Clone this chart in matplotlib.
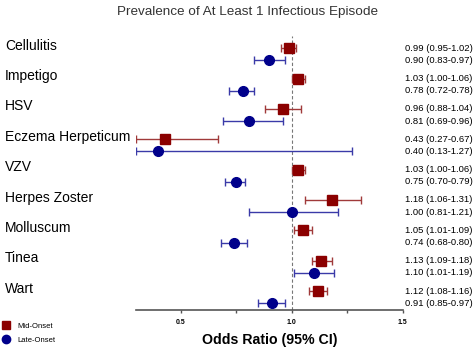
import matplotlib.pyplot as plt
import matplotlib.transforms as mtransforms
from matplotlib.lines import Line2D
import numpy as np

plt.rcParams['font.family'] = ['Liberation Sans', 'DejaVu Sans']

infections = ['Cellulitis', 'Impetigo', 'HSV', 'Eczema Herpeticum', 'VZV',
              'Herpes Zoster', 'Molluscum', 'Tinea', 'Wart']

mid_or = [0.99, 1.03, 0.96, 0.43, 1.03, 1.18, 1.05, 1.13, 1.12]
mid_lo = [0.95, 1.00, 0.88, 0.27, 1.00, 1.06, 1.01, 1.09, 1.08]
mid_hi = [1.02, 1.06, 1.04, 0.67, 1.06, 1.31, 1.09, 1.18, 1.16]

late_or = [0.90, 0.78, 0.81, 0.40, 0.75, 1.00, 0.74, 1.10, 0.91]
late_lo = [0.83, 0.72, 0.69, 0.13, 0.70, 0.81, 0.68, 1.01, 0.85]
late_hi = [0.97, 0.83, 0.96, 1.27, 0.79, 1.21, 0.80, 1.19, 0.97]

mid_text = ['0.99 (0.95-1.02)', '1.03 (1.00-1.06)', '0.96 (0.88-1.04)',
            '0.43 (0.27-0.67)', '1.03 (1.00-1.06)', '1.18 (1.06-1.31)',
            '1.05 (1.01-1.09)', '1.13 (1.09-1.18)', '1.12 (1.08-1.16)']
late_text = ['0.90 (0.83-0.97)', '0.78 (0.72-0.78)', '0.81 (0.69-0.96)',
             '0.40 (0.13-1.27)', '0.75 (0.70-0.79)', '1.00 (0.81-1.21)',
             '0.74 (0.68-0.80)', '1.10 (1.01-1.19)', '0.91 (0.85-0.97)']

xmin, xmax = 0.3, 1.5
red = '#8b0000'
red_bar = '#a03a3a'
blue = '#00008b'
blue_bar = '#3a3aa8'

fig = plt.figure(figsize=(4.74, 3.53), dpi=100)
ax = fig.add_axes([0.287, 0.122, 0.563, 0.776])

y_mid = np.arange(len(infections))
y_late = y_mid + 0.4

def draw(y, est, lo, hi, marker, color, ecolor, ms):
    est = np.array(est)
    lo = np.maximum(np.array(lo), xmin)
    hi = np.minimum(np.array(hi), xmax)
    ax.errorbar(est, y, xerr=[est - lo, hi - est], fmt=marker, color=color,
                ecolor=ecolor, elinewidth=1.0, capsize=3, capthick=1.0,
                ms=ms, zorder=3)

draw(y_mid, mid_or, mid_lo, mid_hi, 's', red, red_bar, 6.5)
draw(y_late, late_or, late_lo, late_hi, 'o', blue, blue_bar, 7)

ax.axvline(1.0, color='#777777', lw=0.8, ls=(0, (3, 2)), zorder=1)

ax.set_xlim(xmin, xmax)
ax.set_ylim(8.62, -0.4)
ax.set_yticks([])
for s in ['top', 'right', 'left']:
    ax.spines[s].set_visible(False)
ax.spines['bottom'].set_color('#555555')
ax.spines['bottom'].set_linewidth(1.2)
ax.set_xticks([0.5, 1.0, 1.5])
ax.set_xticklabels(['0.5', '1.0', '1.5'], fontsize=5, fontweight='bold')
ax.set_xticks([0.75, 1.25], minor=True)
ax.tick_params(axis='x', which='both', length=2.5, width=1, color='#555555', pad=4)

trans = mtransforms.blended_transform_factory(fig.transFigure, ax.transData)
for i, name in enumerate(infections):
    ax.text(5 / 474, y_mid[i] - 0.08, name, transform=trans, fontsize=10,
            ha='left', va='center')
    ax.text(405 / 474, y_mid[i], mid_text[i], transform=trans, fontsize=6.8,
            ha='left', va='center')
    ax.text(405 / 474, y_late[i], late_text[i], transform=trans, fontsize=6.8,
            ha='left', va='center')

fig.text(0.522, 1 - 12 / 353, 'Prevalence of At Least 1 Infectious Episode',
         fontsize=9.7, ha='center', va='center', color='#333333')
fig.text(270 / 474, 1 - 340 / 353, 'Odds Ratio (95% CI)', fontsize=10.2,
         fontweight='bold', ha='center', va='center')

handles = [Line2D([], [], ls='none', marker='s', color=red, ms=5.5),
           Line2D([], [], ls='none', marker='o', color=blue, ms=6)]
fig.legend(handles, ['Mid-Onset', 'Late-Onset'], loc='center left',
           bbox_to_anchor=(0.0, 1 - 333 / 353), frameon=False,
           fontsize=5.5, handlelength=1.0, handletextpad=1.0,
           labelspacing=0.9, borderaxespad=0, borderpad=0.3)

fig.savefig('out.png', dpi=100)
